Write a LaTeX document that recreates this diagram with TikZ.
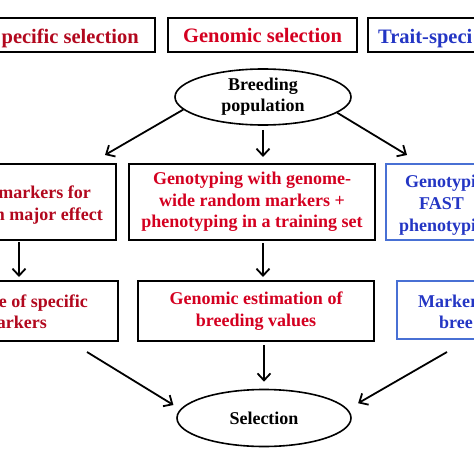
\documentclass[tikz,border=0pt]{standalone}
\usepackage{fontspec}
\setmainfont{Liberation Serif}
\usepackage{xcolor}
\usepackage{tikz}
\usetikzlibrary{shapes.geometric, arrows.meta, positioning}
\definecolor{gsred}{RGB}{212,0,32}
\definecolor{mrkred}{RGB}{178,8,30}
\definecolor{traitblue}{RGB}{36,54,196}
\definecolor{edgeblue}{RGB}{72,112,212}
\tikzset{
    header/.style={rectangle, draw, line width=2pt, minimum height=34pt, inner sep=0pt, text centered, font=\bfseries\fontsize{20.5}{24}\selectfont},
    stepbox/.style={rectangle, draw, line width=2pt, inner sep=0pt, text centered, align=center, font=\bfseries\fontsize{18}{21.7}\selectfont},
    pop/.style={ellipse, draw, line width=1.6pt, inner sep=0pt, text centered, align=center, font=\bfseries\fontsize{18}{21}\selectfont},
    frag/.style={inner sep=0pt, font=\bfseries\fontsize{18}{21.7}\selectfont},
    hfrag/.style={inner sep=0pt, font=\bfseries\fontsize{20.5}{24}\selectfont},
    arrow/.style={-{Straight Barb[length=7pt,width=13pt]}, line width=1.8pt}
}
\begin{document}
\begin{tikzpicture}[x=1pt, y=-1pt]
    \useasboundingbox (0,0) rectangle (474,474);
    \clip (0,0) rectangle (474,474);
    % Selection strategies
    \node[header, minimum width=194pt] (hl) at (58,35) {};
    \node[header, minimum width=189pt, text=gsred] (hm) at (262.5,35) {Genomic selection};
    \node[header, minimum width=189pt] (hr) at (462,35) {};
    \node[hfrag, text=mrkred, anchor=base east] (hl-t) at (139,43) {pecific selection};
    \node[hfrag, text=traitblue, anchor=base west] (hr-t) at (378,43) {Trait-speci};
    % Breeding population
    \node[pop, minimum width=176pt, minimum height=56pt] (bp) at (263,97) {Breeding\\population};
    % Genotyping steps
    \node[stepbox, minimum width=194pt, minimum height=76pt] (gl) at (19,202) {};
    \node[stepbox, minimum width=246pt, minimum height=76pt, text=gsred] (gm) at (252,202) {Genotyping with genome-\\wide random markers +\\phenotyping in a training set};
    \node[stepbox, draw=edgeblue, line width=1.6pt, minimum width=200pt, minimum height=76pt] (gr) at (486,202) {};
    \node[frag, text=mrkred, anchor=base east] (gl-t1) at (91,198) {markers for};
    \node[frag, text=mrkred, anchor=base east] (gl-t2) at (103,220) {n major effect};
    \node[frag, text=traitblue, anchor=base west] (gr-t1) at (405,187) {Genotypi};
    \node[frag, text=traitblue, anchor=base] (gr-t2) at (441.5,209) {FAST};
    \node[frag, text=traitblue, anchor=base west] (gr-t3) at (399,231) {phenotypi};
    % Estimation steps
    \node[stepbox, minimum width=198pt, minimum height=60pt] (ul) at (19,311) {};
    \node[stepbox, minimum width=236pt, minimum height=60pt, text=gsred] (ge) at (256,311) {Genomic estimation of\\breeding values};
    \node[stepbox, draw=edgeblue, line width=1.6pt, minimum width=200pt, minimum height=58pt] (mr) at (497,310) {};
    \node[frag, text=mrkred, anchor=base east] (ul-t1) at (88,307) {e of specific};
    \node[frag, text=mrkred, anchor=base east] (ul-t2) at (47,328) {arkers};
    \node[frag, text=traitblue, anchor=base west] (mr-t1) at (418,307) {Marker};
    \node[frag, text=traitblue, anchor=base west] (mr-t2) at (439,328) {bree};
    % Selection
    \node[pop, minimum width=174pt, minimum height=57pt] (sel) at (264,418) {Selection};
    % Arrow ends
    \coordinate (gl-in) at (105,155);
    \coordinate (gr-in) at (407,155);
    \coordinate (ul-out) at (87,352);
    \coordinate (mr-out) at (447,352);
    % Connections
    \draw[arrow] (bp.189) -- (gl-in);
    \draw[arrow, shorten <=4pt, shorten >=6pt] (bp.south) -- (bp.south |- gm.north);
    \draw[arrow] (bp.348) -- (gr-in);
    \draw[arrow, shorten <=1pt, shorten >=3pt] (gl.south) -- (ul.north);
    \draw[arrow, shorten <=2pt, shorten >=3pt] (bp.south |- gm.south) -- (bp.south |- ge.north);
    \draw[arrow, shorten >=8pt] (ul-out) -- (sel.174);
    \draw[arrow, shorten <=3pt, shorten >=7pt] (sel.north |- ge.south) -- (sel.north);
    \draw[arrow, shorten >=12pt] (mr-out) -- (sel.6);
\end{tikzpicture}
\end{document}
